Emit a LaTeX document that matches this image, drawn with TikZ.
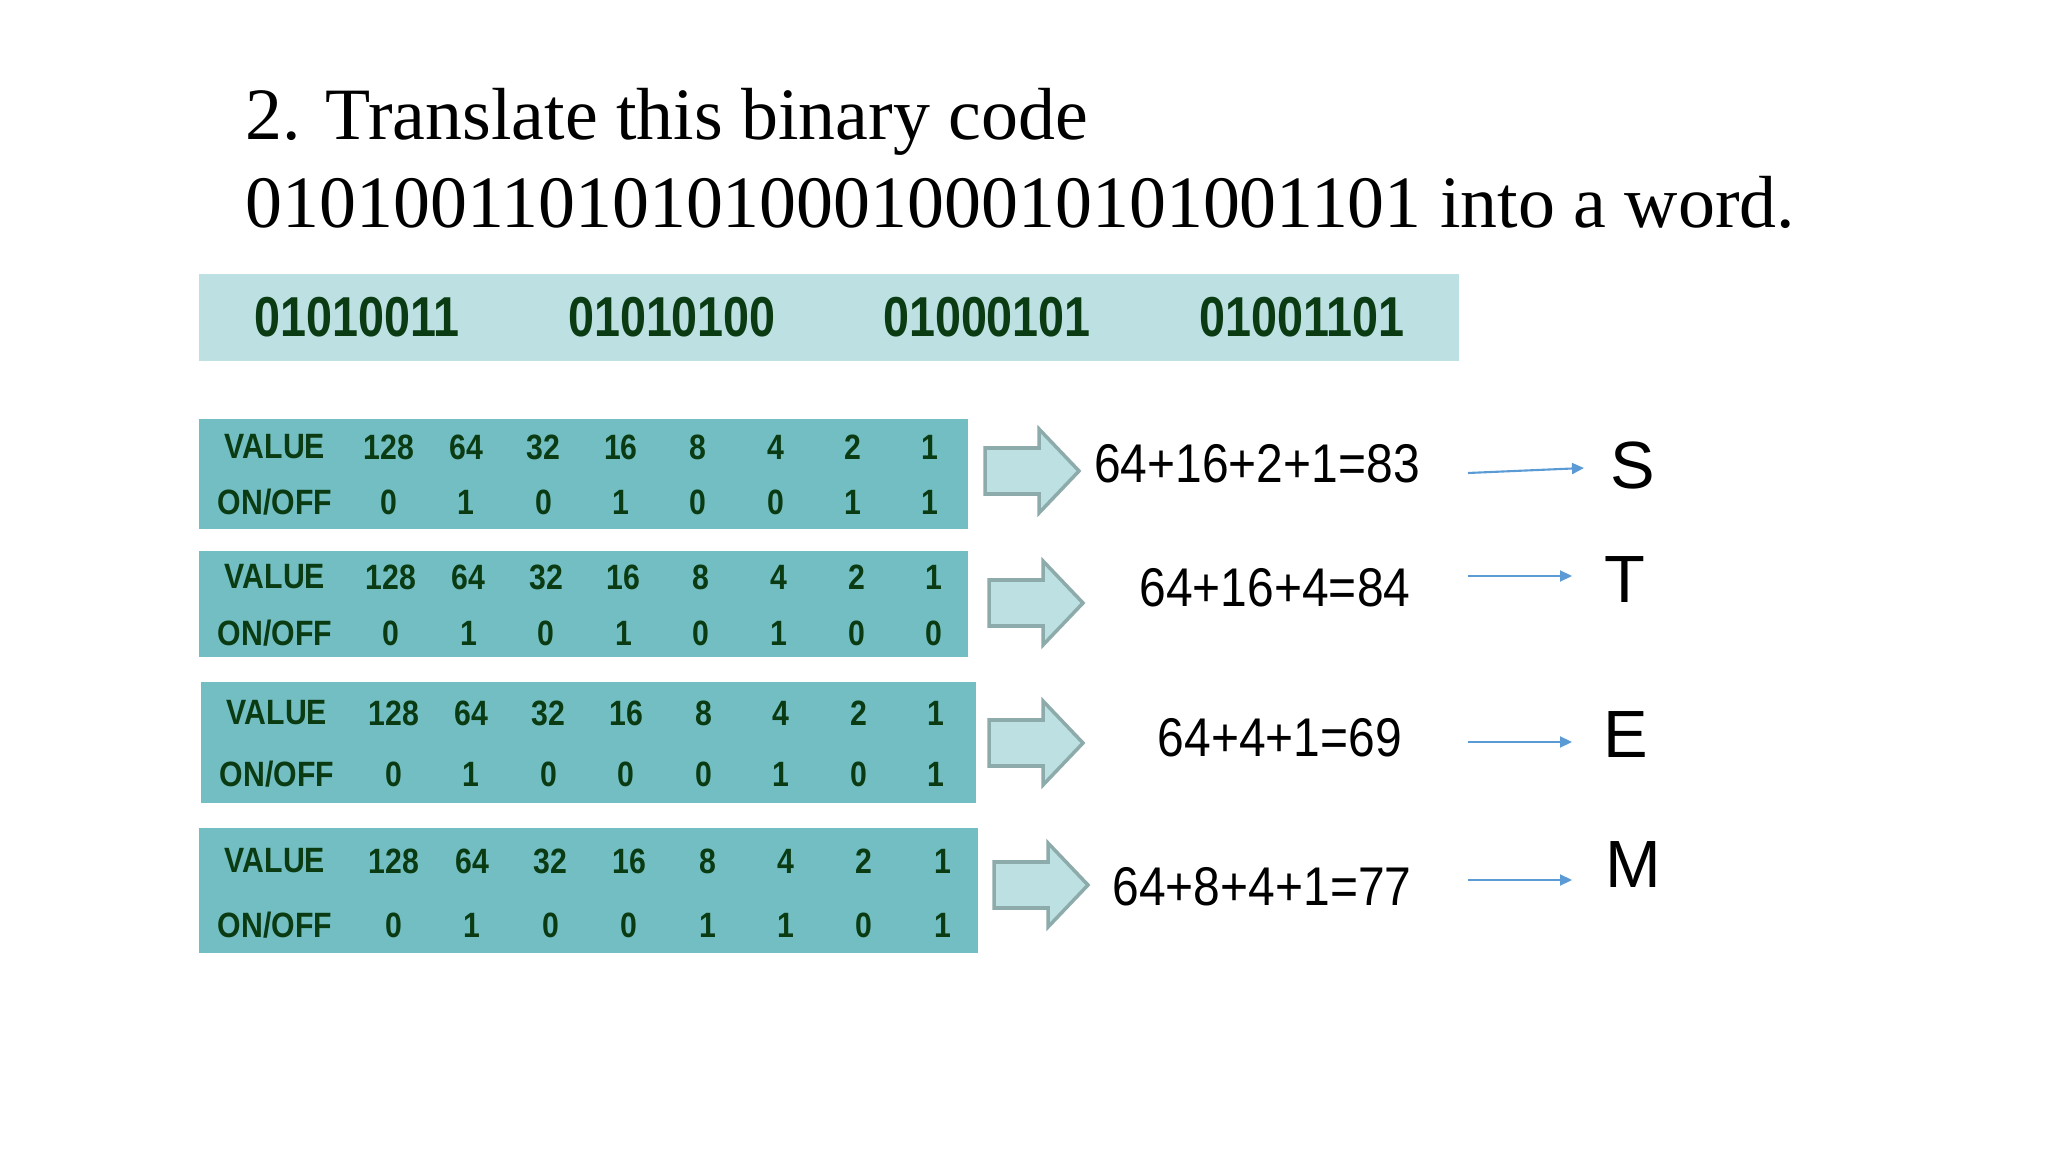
\documentclass[tikz,border=0pt]{standalone}
\usepackage{fontspec}
\setmainfont{Liberation Serif}
\newfontfamily\bytefont[FakeStretch=0.83]{Liberation Sans}
\newfontfamily\cellfont[FakeStretch=0.86]{Liberation Sans}
\newfontfamily\sumfont[FakeStretch=0.88]{Liberation Sans}
\newfontfamily\letterfont{Liberation Sans}
\usetikzlibrary{positioning,arrows.meta}
\definecolor{bandblue}{HTML}{BDE1E3}
\definecolor{tabteal}{HTML}{72BEC3}
\definecolor{darkgreen}{HTML}{0B3B12}
\definecolor{arrowedge}{HTML}{8DABAA}
\definecolor{linkblue}{HTML}{5B9BD5}

\tikzset{
  blockarrow/.pic={
    \draw[fill=bandblue,draw=arrowedge,line width=1pt,line join=miter]
      (0,-23) -- (54,-23) -- (54,-42) -- (94,0) -- (54,42) -- (54,23) -- (0,23) -- cycle;
  }
}

\begin{document}
\begin{tikzpicture}[x=0.01cm,y=-0.01cm,>=Latex,
  title/.style={anchor=base west,inner sep=0pt,font=\fontsize{21}{26}\selectfont},
  bytetxt/.style={inner sep=0pt,text=darkgreen,font=\bytefont\fontsize{16}{19}\bfseries},
  cell/.style={inner sep=0pt,text=darkgreen,font=\cellfont\fontsize{10}{12}\bfseries},
  sum/.style={inner sep=0pt,font=\sumfont\fontsize{15.5}{18}\selectfont},
  letter/.style={inner sep=0pt,font=\letterfont\fontsize{19}{22}\selectfont},
  link/.style={draw=linkblue,line width=0.6pt,-{Triangle[length=1.2mm,width=1.1mm]}}]
  \useasboundingbox (0,0) rectangle (2048,1152);
  \node[title] (line1) at (245,140) {2. Translate this binary code};
  \node[title] (line2) at (245,228) {01010011010101000100010101001101 into a word.};
  % bytes
  \fill[bandblue] (199,274) rectangle (1459,361);
  \foreach \b [count=\i] in {01010011,01010100,01000101,01001101}
    \node[bytetxt] (byte\i) at ({357+315*(\i-1)},317) {\b};
  % tables
  \foreach \t/\xa/\ya/\xb/\yb/\ra/\rb/\cx/\dx/\bits in {
      1/199/419/968/529/447/502/389/77.3/{0,1,0,1,0,0,1,1},
      2/199/551/968/657/577/633/391/77.6/{0,1,0,1,0,1,0,0},
      3/201/682/976/803/713/774/394/77.4/{0,1,0,0,0,1,0,1},
      4/199/828/978/953/861/925/394/78.4/{0,1,0,0,1,1,0,1}} {
    \fill[tabteal] (\xa,\ya) rectangle (\xb,\yb);
    \node[cell] (val\t) at ({\xa+76},\ra) {VALUE};
    \node[cell] (onoff\t) at ({\xa+76},\rb) {ON/OFF};
    \foreach \v [count=\i] in {128,64,32,16,8,4,2,1}
      \node[cell] (v\t-\i) at ({\cx+(\i-1)*\dx},\ra) {\v};
    \foreach \b [count=\i] in \bits
      \node[cell] (b\t-\i) at ({\cx+(\i-1)*\dx},\rb) {\b};
  }
  \pic at (985,471) {blockarrow};
  \pic at (989,603) {blockarrow};
  \pic at (989,743) {blockarrow};
  \pic at (994,885) {blockarrow};
  \node[sum] (sum1) at (1257,464) {64+16+2+1=83};
  \node[sum] (sum2) at (1275,588) {64+16+4=84};
  \node[sum] (sum3) at (1280,738) {64+4+1=69};
  \node[sum] (sum4) at (1262,887) {64+8+4+1=77};
  \node[letter] (S) at (1633,465) {S};
  \node[letter] (T) at (1625,580) {T};
  \node[letter] (E) at (1626,735) {E};
  \node[letter] (M) at (1633,865) {M};
  \coordinate (from1) at (1468,473); \coordinate (to1) at (1584,468);
  \coordinate (from2) at (1468,576); \coordinate (to2) at (1572,576);
  \coordinate (from3) at (1468,742); \coordinate (to3) at (1572,742);
  \coordinate (from4) at (1468,880); \coordinate (to4) at (1572,880);
  \foreach \k in {1,...,4} \draw[link] (from\k) -- (to\k);
\end{tikzpicture}
\end{document}
